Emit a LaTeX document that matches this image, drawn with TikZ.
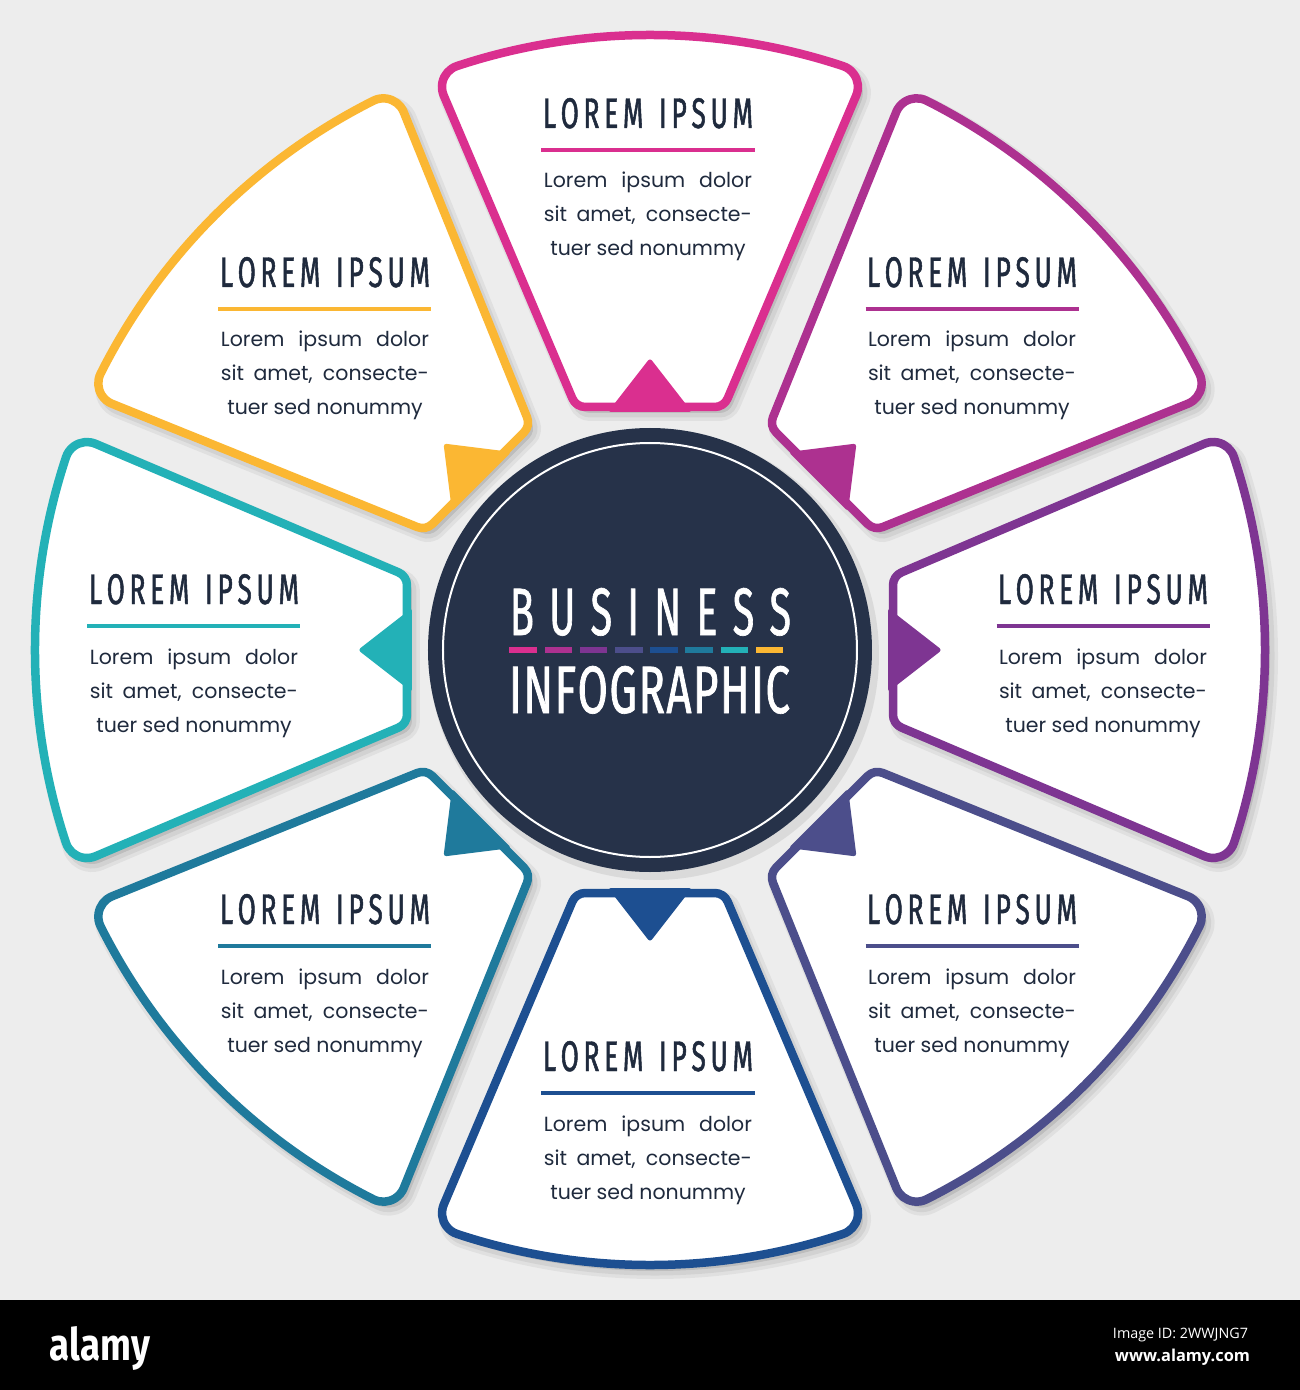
\documentclass[tikz,border=0pt]{standalone}
\usepackage{fontspec}
\usepackage{graphicx}
\setmainfont{Poppins}
\newfontfamily\condfont[FakeStretch=0.55]{Fira Sans}
\newfontfamily\headfont[FakeStretch=0.5,FakeBold=1]{Fira Sans}
\newfontfamily\bigfont[FakeStretch=0.62,FakeBold=1]{Fira Sans}
\newfontfamily\bodyfont{Poppins}
\newfontfamily\osfont{Open Sans}
\definecolor{bgc}{HTML}{EDEDED}
\definecolor{cNavy}{HTML}{263249}
\definecolor{cText}{HTML}{1F2A3D}
\definecolor{cPink}{HTML}{DA2F8F}
\definecolor{cMag}{HTML}{AD3190}
\definecolor{cPur}{HTML}{7E3592}
\definecolor{cInd}{HTML}{4C4E8B}
\definecolor{cBlu}{HTML}{1D4F91}
\definecolor{cTeb}{HTML}{1F7A9C}
\definecolor{cTea}{HTML}{23B1B7}
\definecolor{cYel}{HTML}{FBB733}
\def\segpath{(243,-64.74) arc[start angle=180,end angle=247,radius=14] -- (554.5,-206.2) arc[start angle=-113,end angle=-18.28,radius=22] arc[start angle=-18.28,end angle=18.28,radius=615] arc[start angle=18.28,end angle=113,radius=22] -- (251.53,77.63) arc[start angle=113,end angle=180,radius=14] -- cycle}
\def\hs{\hspace{.09em}}
\def\hb{\hspace{.24em}}
\newcommand{\headtext}{\resizebox{210pt}{30pt}{\headfont L\hs O\hs R\hs E\hs M\hspace{.3em}I\hs P\hs S\hs U\hs M}}
\newcommand{\txtblock}[4]{%
  \begin{scope}[shift={(#2,#3)}]
    \node[headtxt] (#1-head) at (0,0) {\headtext};
    \draw[#4, line width=4.5] (-106.5,-22) -- (106.5,-22);
    \node[bodytxt] (#1-l1) at (0,-60) {\makebox[208pt][s]{Lorem ipsum dolor}};
    \node[bodytxt] (#1-l2) at (0,-94) {\makebox[208pt][s]{sit amet, consecte-}};
    \node[bodytxt] (#1-l3) at (0,-128) {\makebox[208pt][c]{tuer sed nonummy}};
  \end{scope}}
\begin{document}
\begin{tikzpicture}[x=1pt,y=1pt,
  headtxt/.style={anchor=base, inner sep=0, text=cText},
  bodytxt/.style={anchor=base, inner sep=0, text=cText, font=\bodyfont\fontsize{20.5}{24}\selectfont},
  segline/.style={line width=8.5, line join=round},
  whitetxt/.style={anchor=base, inner sep=0, text=white}]
\useasboundingbox (-650,-740) rectangle (650,650);
\fill[bgc] (-650,-740) rectangle (650,650);
\fill[black] (-650,-740) rectangle (650,-650);
% shadows
\foreach \a in {90,45,0,-45,-90,-135,180,135}{
  \begin{scope}[shift={(5,-6)}]
    \begin{scope}[rotate=\a]
      \filldraw[black, fill opacity=0.10, draw opacity=0.05, line width=16] \segpath;
      \draw[black, opacity=0.06, line width=9] \segpath;
    \end{scope}
  \end{scope}
}
% segments
\foreach \a/\c in {90/cPink,45/cMag,0/cPur,-45/cInd,-90/cBlu,-135/cTeb,180/cTea,135/cYel}{
  \begin{scope}[rotate=\a]
    \filldraw[fill=white, draw=\c, segline] \segpath;
    \fill[\c, rounded corners=3] (238,42) -- (292,0) -- (238,-42) -- cycle;
  \end{scope}
}
% hub
\fill[black, opacity=0.08] (4,-5) circle[radius=225];
\node[circle, fill=cNavy, minimum size=444, inner sep=0] (hub) at (0,0) {};
\draw[white, line width=2] (hub.center) circle[radius=207];
\node[whitetxt] (biz) at (0.5,15) {\resizebox{281pt}{47pt}{\bigfont B\hb U\hb S\hb I\hb N\hb E\hb S\hb S}};
\node[whitetxt] (info) at (-0.5,-63) {\resizebox{281pt}{47pt}{\bigfont I\hspace{.02em}N\hspace{.02em}F\hspace{.02em}O\hspace{.02em}G\hspace{.02em}R\hspace{.02em}A\hspace{.02em}P\hspace{.02em}H\hspace{.02em}I\hspace{.02em}C}};
\foreach \c [count=\i from 0] in {cPink,cMag,cPur,cInd,cBlu,cTeb,cTea,cYel}
  \fill[\c] (-140.5+35.2*\i,-3.3) rectangle ++(27.5,6.6);
% text blocks
\txtblock{t}{-2}{522}{cPink}
\txtblock{tr}{322}{363}{cMag}
\txtblock{r}{453}{46}{cPur}
\txtblock{br}{322}{-274}{cInd}
\txtblock{b}{-2}{-421}{cBlu}
\txtblock{bl}{-325}{-274}{cTeb}
\txtblock{l}{-456}{46}{cTea}
\txtblock{tl}{-325}{363}{cYel}
% footer
\node[whitetxt] (logo) at (-550,-710) {\resizebox{100pt}{34pt}{\condfont\bfseries alamy}};
\node[whitetxt] (imgid) at (530.5,-688) {\resizebox{135pt}{!}{\osfont Image ID: 2WWJNG7}};
\node[whitetxt] (url) at (532.5,-711) {\resizebox{135pt}{!}{\osfont\bfseries www.alamy.com}};
\end{tikzpicture}
\end{document}
